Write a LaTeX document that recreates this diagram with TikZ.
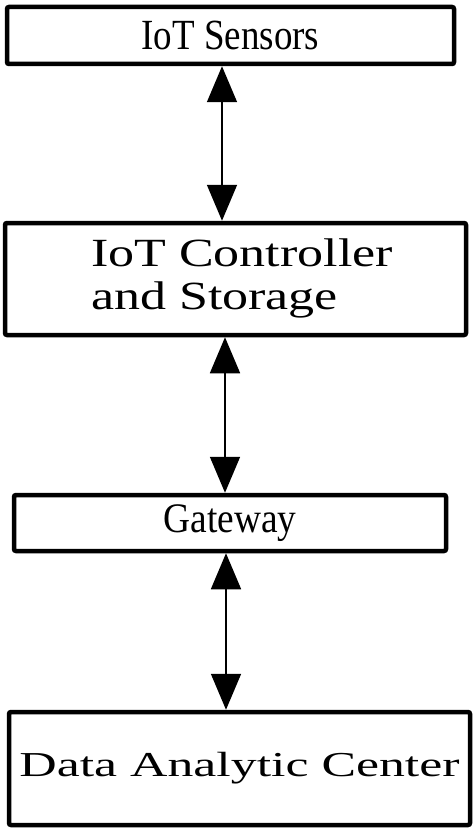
\documentclass[tikz,border=0pt]{standalone}
\usepackage{fontspec}
\setmainfont{Liberation Serif}
\usetikzlibrary{arrows.meta}

\tikzset{
    unit/.style={draw, line width=4.5pt, rounded corners=2pt, inner sep=0pt},
    link/.style={line width=1.8pt, {Triangle[width=30pt,length=36pt]}-{Triangle[width=30pt,length=36pt]}}
}

\begin{document}
\begin{tikzpicture}[x=1pt, y=1pt]
            \useasboundingbox (0, 0) rectangle (474, -829);

            \path (230.5, -35.5) coordinate (S);
            \path (235.5, -279) coordinate (C);
            \path (230, -523) coordinate (G);
            \path (239.5, -768.5) coordinate (D);

            \node[unit, minimum width=447pt, minimum height=57pt] (sensors) at (S)
                {\fontsize{43}{48}\selectfont\scalebox{0.86}[1]{IoT Sensors}};
            \node[unit, minimum width=461pt, minimum height=112pt] (controller) at (C)
                {\fontsize{40}{43}\selectfont\scalebox{1.3}[1]{\hspace*{10pt}\begin{tabular}{@{}l@{}}IoT Controller\\and Storage\end{tabular}}};
            \node[unit, minimum width=432pt, minimum height=56pt] (gateway) at (G)
                {\fontsize{42}{48}\selectfont\scalebox{0.89}[1]{Gateway}};
            \node[unit, minimum width=461pt, minimum height=113pt] (center) at (D)
                {\fontsize{35}{40}\selectfont\scalebox{1.48}[1]{Data Analytic Center}};

            \draw[link] ([xshift=-8.5pt]sensors.south) -- ([xshift=-8.5pt]sensors.south |- controller.north);
            \draw[link] ([xshift=-10.5pt]controller.south) -- ([xshift=-10.5pt]controller.south |- gateway.north);
            \draw[link] ([xshift=-4pt]gateway.south) -- ([xshift=-4pt]gateway.south |- center.north);
        \end{tikzpicture}
\end{document}
